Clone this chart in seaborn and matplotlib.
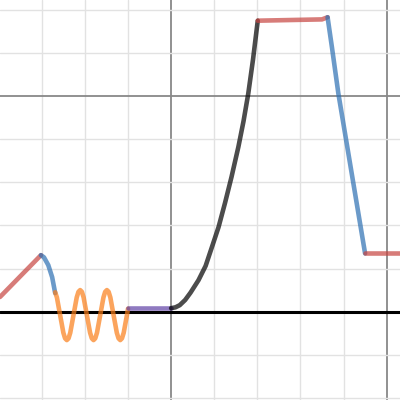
import matplotlib
matplotlib.use("Agg")
import matplotlib.pyplot as plt
import seaborn as sns
import pandas as pd

red1_x = [-3.97, -3.02]
red1_y = [0.34, 1.31]
blue1_x = [-3.02, -2.95, -2.85, -2.76, -2.69]
blue1_y = [1.31, 1.26, 1.08, 0.80, 0.43]
orange_x = [-2.69, -2.65, -2.575, -2.50, -2.46, -2.42,
            -2.38, -2.34, -2.265, -2.19, -2.15, -2.11,
            -2.07, -2.03, -1.955, -1.88, -1.84, -1.80,
            -1.76, -1.72, -1.645, -1.57, -1.53, -1.49,
            -1.45, -1.41, -1.335, -1.26, -1.22, -1.18,
            -1.14, -1.10, -1.025, -1.0]
orange_y = [0.45, 0.33, -0.08, -0.49, -0.62, -0.66,
            -0.62, -0.49, -0.08, 0.33, 0.46, 0.50,
            0.46, 0.33, -0.08, -0.49, -0.62, -0.66,
            -0.62, -0.49, -0.08, 0.33, 0.46, 0.50,
            0.46, 0.33, -0.08, -0.49, -0.62, -0.66,
            -0.62, -0.49, -0.08, 0.07]
purple_x = [-1.0, 0.0]
purple_y = [0.08, 0.08]
black_x = [0.0, 0.1, 0.2, 0.325, 0.45, 0.635, 0.8, 0.944, 1.1, 1.25,
           1.4, 1.56, 1.68, 1.79, 1.9, 2.01]
black_y = [0.08, 0.10, 0.15, 0.27, 0.44, 0.73, 1.06, 1.49, 1.96, 2.52,
           3.12, 3.82, 4.42, 5.06, 5.85, 6.75]
red2_x = [2.01, 2.5, 3.0, 3.5, 3.63]
red2_y = [6.75, 6.76, 6.77, 6.78, 6.83]
blue2_x = [3.63, 3.73, 3.88, 4.50]
blue2_y = [6.83, 6.14, 5.06, 1.35]
red3_x = [4.50, 5.4]
red3_y = [1.35, 1.35]

sns.set_style("white")
fig = plt.figure(figsize=(4, 4), dpi=100)
ax = fig.add_axes([0, 0, 1, 1])
xmin, xmax = -3.97, 5.31
ymin, ymax = -2.05, 7.23
for v in range(-4, 6):
    ax.axvline(v, color="#888888" if v % 5 == 0 else "#e2e2e2", lw=1.3 if v % 5 == 0 else 1.0, zorder=0)
for v in range(-2, 8):
    if v == 0:
        continue
    ax.axhline(v, color="#888888" if v % 5 == 0 else "#e2e2e2", lw=1.3 if v % 5 == 0 else 1.0, zorder=0)
ax.axhline(0, color="black", lw=2.2, zorder=1)

segs = [(red1_x, red1_y, "#c74440"), (blue1_x, blue1_y, "#2d70b3"),
        (orange_x, orange_y, "#fa7e19"), (purple_x, purple_y, "#6042a6"),
        (black_x, black_y, "#000000"), (red2_x, red2_y, "#c74440"),
        (blue2_x, blue2_y, "#2d70b3"), (red3_x, red3_y, "#c74440")]
for xs, ys, c in segs:
    df = pd.DataFrame({"x": xs, "y": ys})
    sns.lineplot(data=df, x="x", y="y", sort=False, color=c, lw=3.3, alpha=0.7,
                 ax=ax, zorder=3, solid_capstyle="round", solid_joinstyle="round")

ax.set_xlim(xmin, xmax)
ax.set_ylim(ymin, ymax)
ax.set_xticks([]); ax.set_yticks([])
ax.set_xlabel(""); ax.set_ylabel("")
for s in ax.spines.values():
    s.set_visible(False)
fig.savefig("out.png", dpi=100)
